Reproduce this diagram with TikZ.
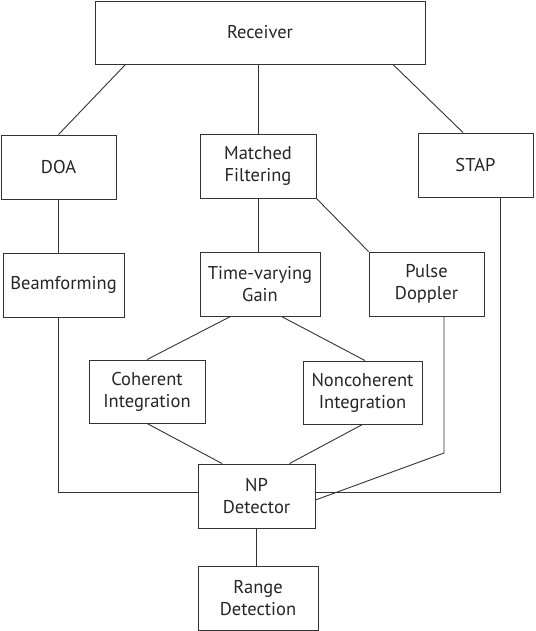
\documentclass[tikz,border=0pt]{standalone}
\usepackage{fontspec}
\setmainfont{PT Sans}
\begin{document}
\begin{tikzpicture}[x=1pt,y=-1pt,
  box/.style={draw=black!80, line width=0.9pt, fill=white, rectangle, inner sep=0pt, align=center,
    font=\fontsize{18.5}{22}\selectfont, text=black!85},
  conn/.style={draw=black!80, line width=0.9pt}]
\useasboundingbox (0,0) rectangle (535,631);
\node[box, minimum width=330, minimum height=63] (rec) at (260,32.5) {Receiver};
\node[box, minimum width=115, minimum height=64] (doa) at (58.5,167) {DOA};
\node[box, minimum width=116, minimum height=64] (mf) at (258,166) {Matched\\Filtering};
\node[box, minimum width=115, minimum height=64] (stap) at (475.5,165) {STAP};
\node[box, minimum width=121, minimum height=64] (beam) at (63.5,285) {Beamforming};
\node[box, minimum width=120, minimum height=64] (tvg) at (260,284) {Time-varying\\Gain};
\node[box, minimum width=115, minimum height=64] (pd) at (426.5,284) {Pulse\\Doppler};
\node[box, minimum width=116, minimum height=63] (coh) at (147,391.5) {Coherent\\Integration};
\node[box, minimum width=119, minimum height=63] (nonc) at (362.5,392.5) {Noncoherent\\Integration};
\node[box, minimum width=117, minimum height=64] (np) at (256.5,496) {NP\\Detector};
\node[box, minimum width=120, minimum height=64] (range) at (258,598) {Range\\Detection};
\coordinate (pdbend) at (444,453);
\draw[conn] ([xshift=31]rec.south west) -- (doa.north);
\draw[conn] (mf.north |- rec.south) -- (mf.north);
\draw[conn] ([xshift=-32.5]rec.south east) -- ([xshift=45.5]stap.north west);
\draw[conn] (doa.south) -- (doa.south |- beam.north);
\draw[conn] (mf.south) -- (mf.south |- tvg.north);
\draw[conn] (mf.south east) -- (pd.north west);
\draw[conn] ([xshift=31]tvg.south west) -- (coh.north);
\draw[conn] ([xshift=-39]tvg.south east) -- ([xshift=2.5]nonc.north);
\draw[conn] (coh.south) -- ([xshift=24.5]np.north west);
\draw[conn] (nonc.south) -- ([xshift=-26]np.north east);
\draw[conn] ([xshift=-5.5]beam.south) |- ([yshift=4]np.west);
\draw[conn] ([xshift=83]stap.south west) |- ([yshift=4]np.east);
\draw[conn] ([xshift=17.5]pd.south) -- (pdbend) -- ([yshift=-4]np.east);
\draw[conn] (np.south) -- (np.south |- range.north);
\end{tikzpicture}
\end{document}
